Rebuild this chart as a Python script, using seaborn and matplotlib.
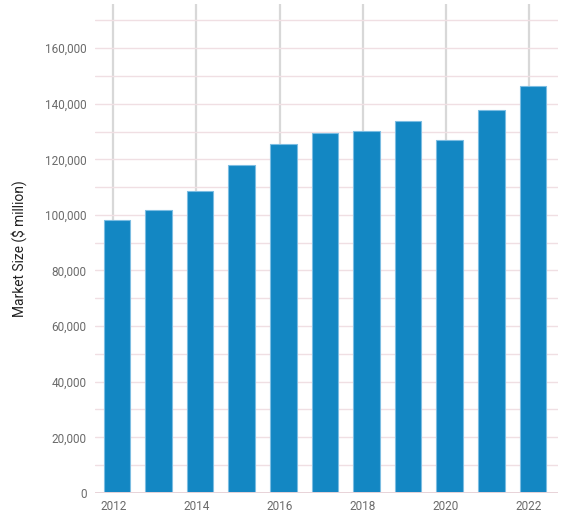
import numpy as np
import matplotlib
matplotlib.use('Agg')
import matplotlib.pyplot as plt
import seaborn as sns
import pandas as pd

years = [2012, 2013, 2014, 2015, 2016, 2017, 2018, 2019, 2020, 2021, 2022]
market_size = [98300, 101900, 108600, 118000, 125600, 129600, 130100, 133700, 126900, 137800, 146300]
tick_years = [2012, 2014, 2016, 2018, 2020, 2022]
ytick_vals = list(range(0, 160001, 20000))

df = pd.DataFrame({'year': years, 'size': market_size})

sns.set_style('white')
plt.rcParams['font.family'] = ['Roboto', 'DejaVu Sans']

fig = plt.figure(figsize=(5.68, 5.26), dpi=100)
ax = fig.add_axes([0.167, 0.063, 0.815, 0.929])

sns.barplot(data=df, x='year', y='size', native_scale=True, width=0.64,
            color='#1387c3', saturation=1, edgecolor='#7cbde2', linewidth=0.8,
            zorder=3, ax=ax)

ax.set_xlim(2011.47, 2022.6)
ax.set_ylim(0, 175800)

ax.set_yticks(ytick_vals)
ax.set_yticklabels([f'{v:,}' for v in ytick_vals])
ax.set_yticks(range(10000, 170001, 20000), minor=True)
ax.set_xticks(np.array(tick_years) - 0.09)
ax.set_xticklabels([str(y) for y in tick_years])

ax.grid(axis='y', which='both', color='#f0dfe3', linewidth=1.0, zorder=0)
ax.grid(axis='x', which='major', color='#d8d8d8', linewidth=1.6, zorder=0)
ax.axhline(0, color='#e8d4d9', linewidth=1.4, zorder=4)

ax.tick_params(axis='both', which='both', length=0, labelsize=8.5, colors='#6b6b6b')
ax.tick_params(axis='x', pad=5)
ax.tick_params(axis='y', pad=6)
for s in ax.spines.values():
    s.set_visible(False)

ax.set_xlabel('')
ax.set_ylabel('Market Size ($ million)', fontsize=9.9, color='#222222', labelpad=13)

fig.savefig('out.png', dpi=100)
